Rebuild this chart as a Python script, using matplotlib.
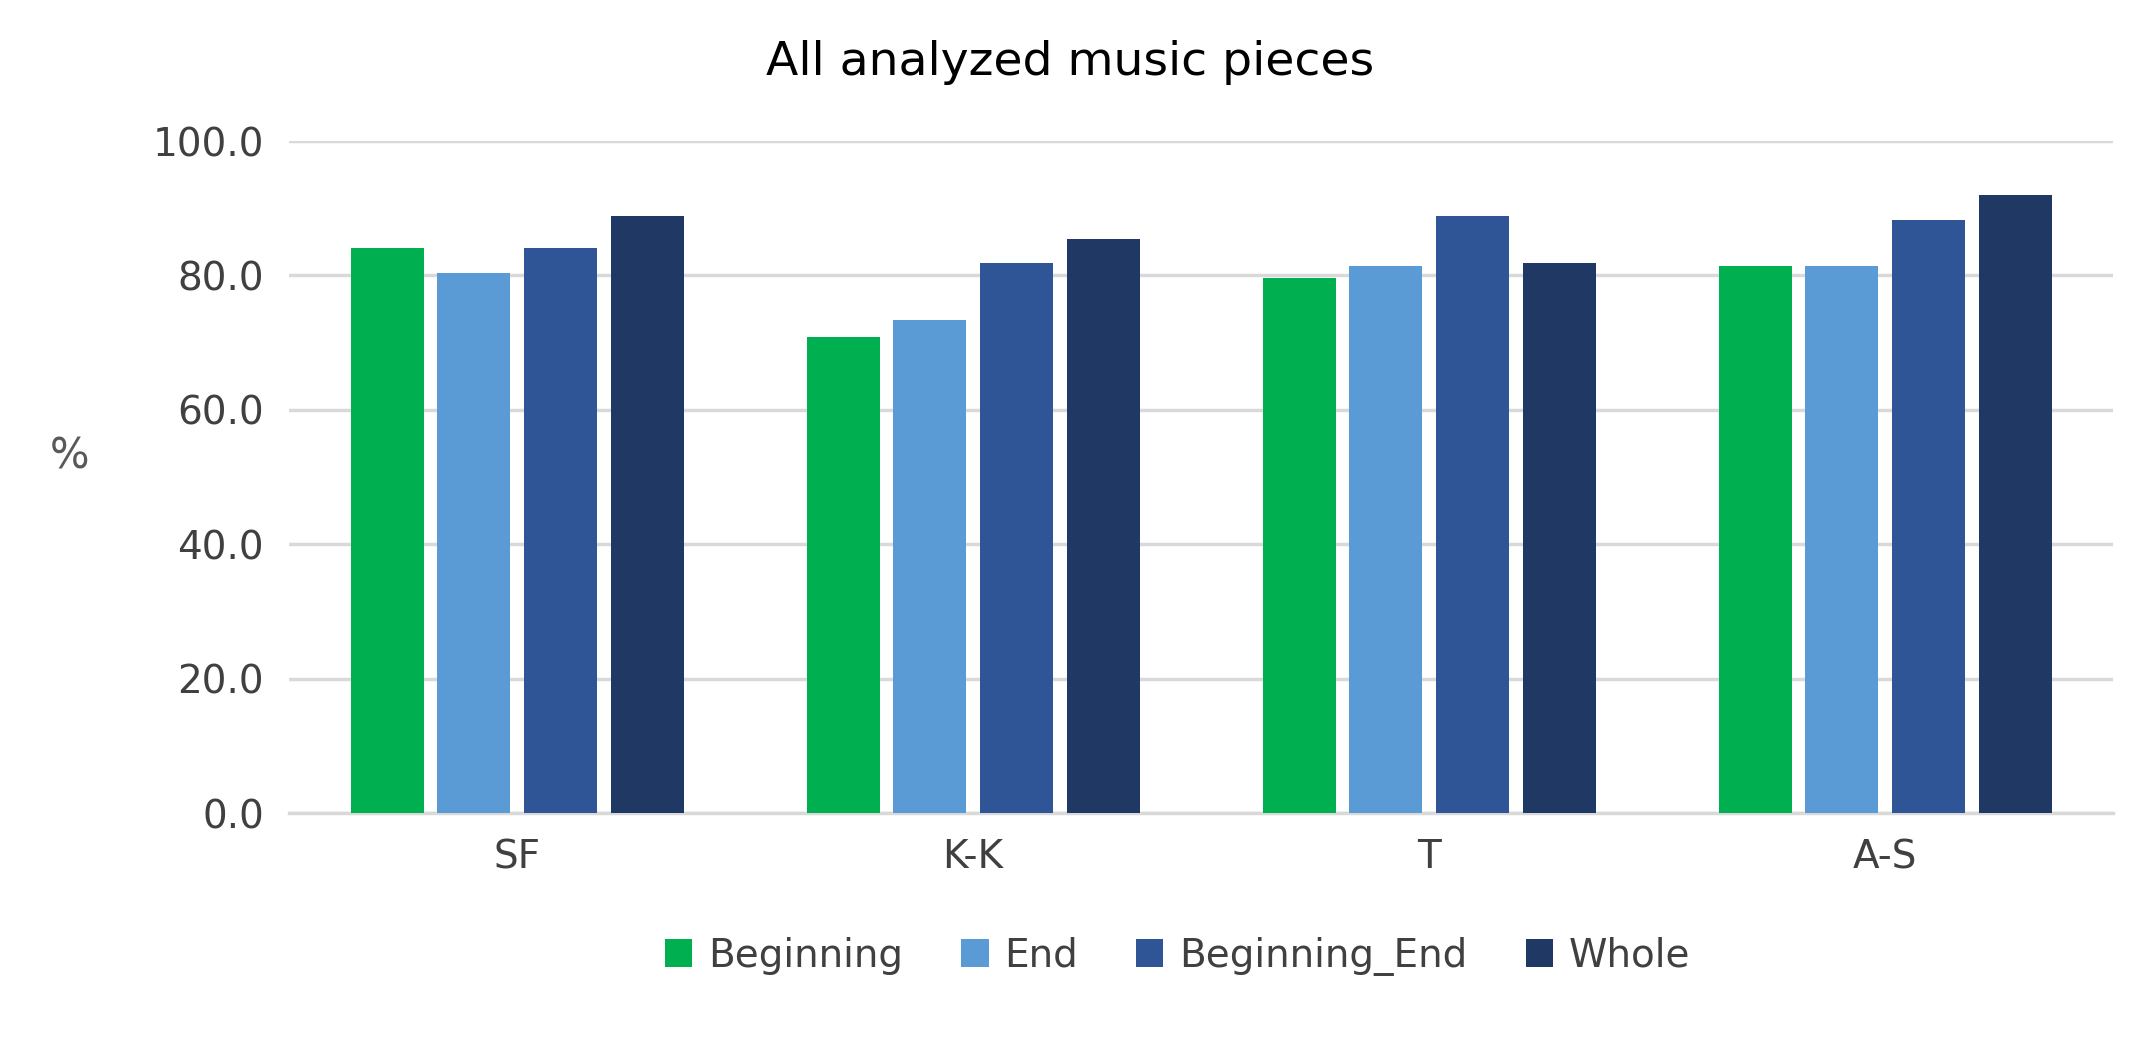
import matplotlib
matplotlib.use("Agg")
import matplotlib.pyplot as plt
import numpy as np

categories = ["SF", "K-K", "T", "A-S"]
series_names = ["Beginning", "End", "Beginning_End", "Whole"]
beginning = [84.1, 70.8, 79.6, 81.4]
end = [80.4, 73.3, 81.4, 81.4]
beginning_end = [84.1, 81.8, 88.8, 88.2]
whole = [88.8, 85.5, 81.8, 92.0]
yticks = [0, 20, 40, 60, 80, 100]
colors = ["#00B050", "#5B9BD5", "#2F5597", "#203864"]

fig = plt.figure(figsize=(21.41, 10.45), dpi=100)
ax = fig.add_axes([0.135, 0.222, 0.852, 0.643])
x = np.arange(len(categories))
w = 0.16
gap = 0.19
for i, (vals, name) in enumerate(zip([beginning, end, beginning_end, whole], series_names)):
    ax.bar(x + (i - 1.5) * gap, vals, w, color=colors[i], label=name, zorder=3)
ax.set_ylim(0, 100)
ax.set_xlim(-0.5, 3.5)
ax.set_yticks(yticks)
ax.set_yticklabels([f"{v:.1f}" for v in yticks], fontsize=28, color="#404040")
ax.set_xticks(x)
ax.set_xticklabels(categories, fontsize=28, color="#404040")
ax.tick_params(length=0, pad=18)
ax.grid(axis="y", color="#D9D9D9", linewidth=2.5, zorder=0)
for s in ["top", "right", "left"]:
    ax.spines[s].set_visible(False)
ax.spines["bottom"].set_color("#D9D9D9")
ax.spines["bottom"].set_linewidth(2.5)
ax.set_ylabel("%", fontsize=30, color="#595959", rotation=0, labelpad=60)
fig.text(0.5, 0.94, "All analyzed music pieces", ha="center", va="center", fontsize=34)
fig.legend(loc="center", bbox_to_anchor=(0.55, 0.085), ncol=4, frameon=False,
           fontsize=28, handlelength=0.7, handleheight=0.7, handletextpad=0.4, columnspacing=1.5,
           labelcolor="#404040")
fig.savefig("out.png", dpi=100)
